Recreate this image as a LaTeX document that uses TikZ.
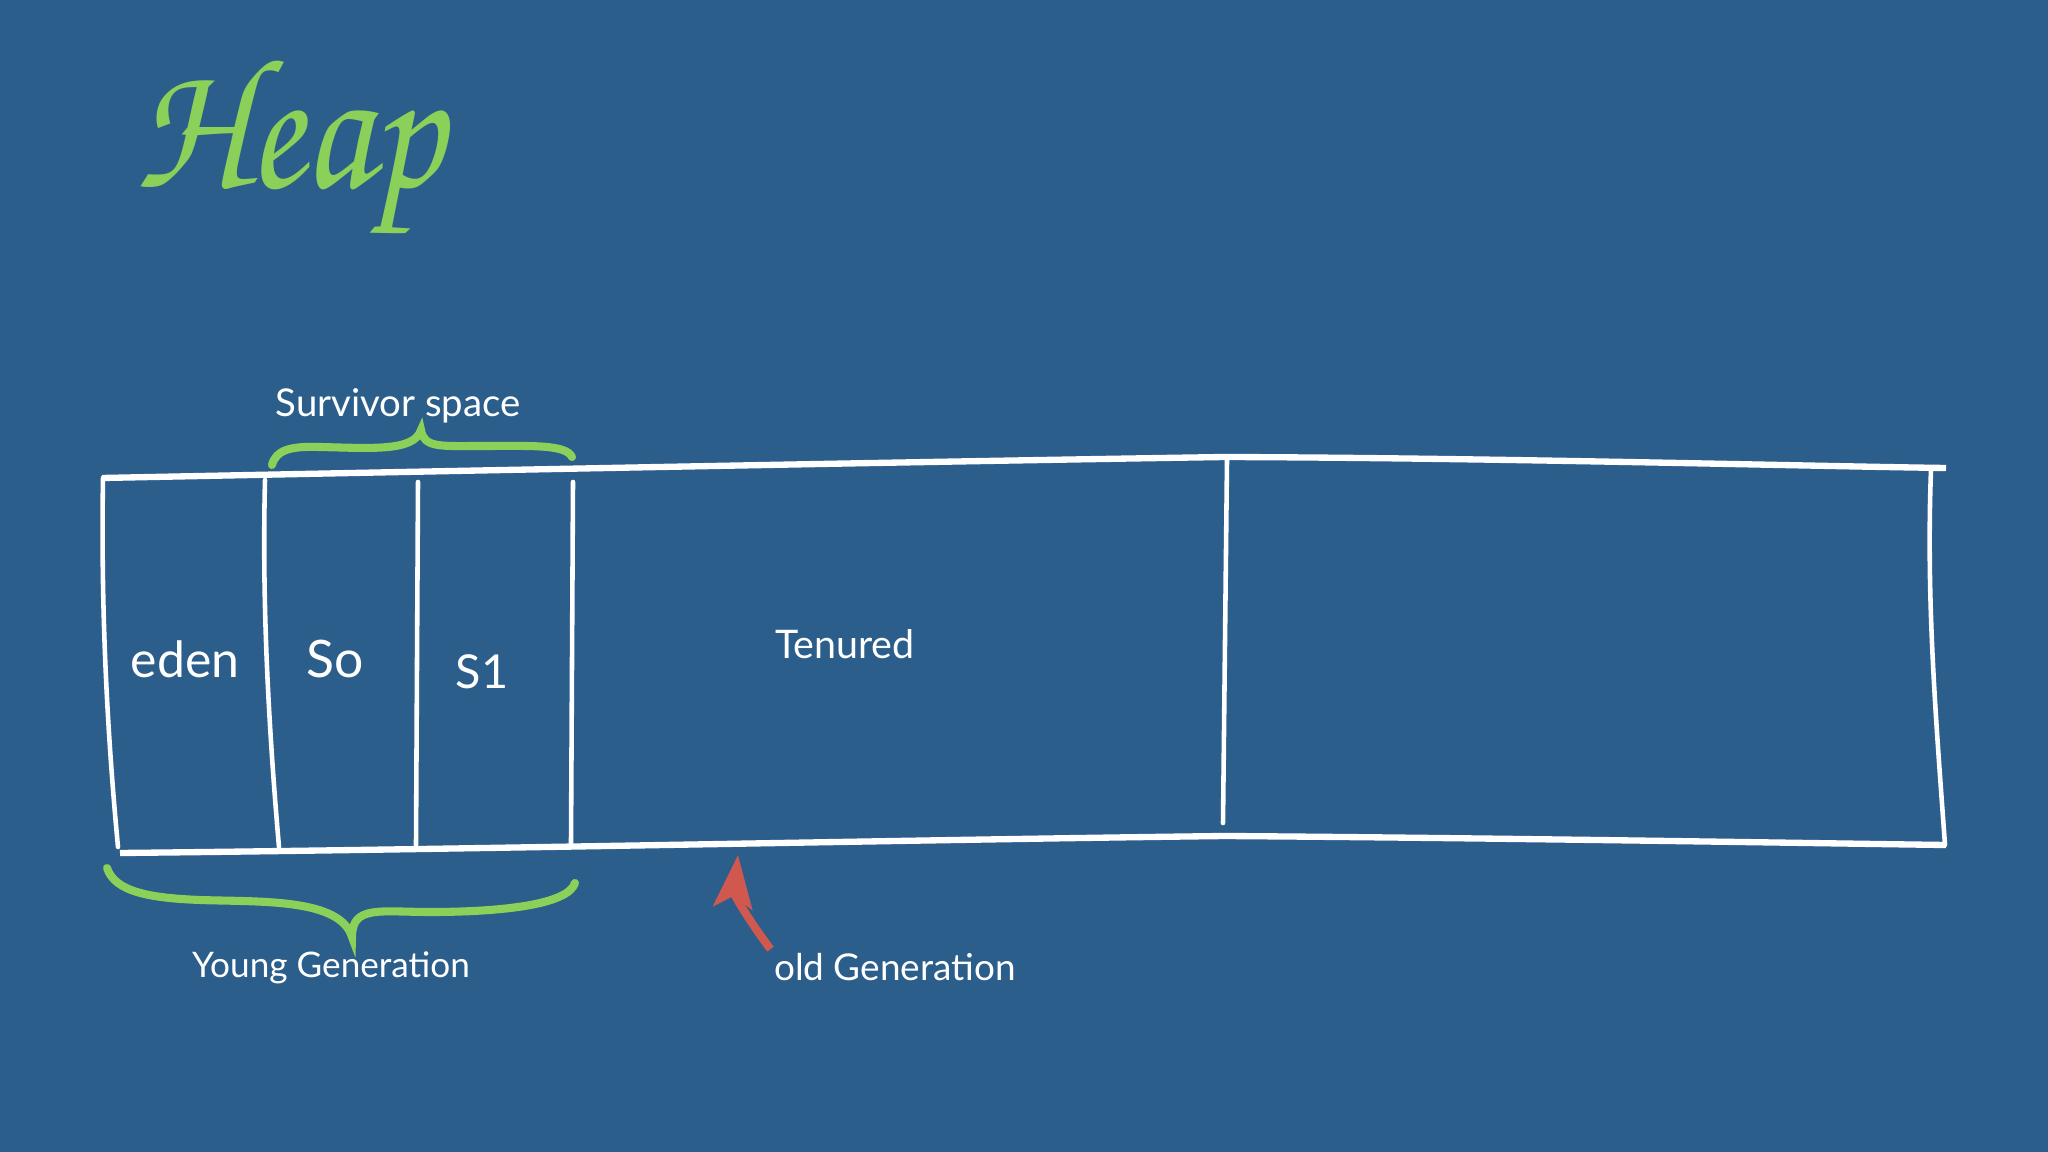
\documentclass[tikz,border=0pt]{standalone}
\usepackage[T1]{fontenc}
\usepackage{fontspec}
\newfontfamily\labelfont{Lato}
\newcommand{\heapfont}{\fontencoding{T1}\fontfamily{pzc}\fontseries{mb}\fontshape{it}\selectfont}
\usetikzlibrary{arrows.meta,positioning}
\definecolor{bgblue}{RGB}{44,94,140}
\definecolor{chalkgreen}{RGB}{139,208,88}
\definecolor{chalkred}{RGB}{208,88,79}
\tikzset{
  wall/.style={white, line width=1.3pt, line cap=round},
  rim/.style={white, line width=1.8pt},
  brace/.style={chalkgreen, line width=2.3pt, line cap=round},
  lbl/.style={white, inner sep=0pt, anchor=base, font=\labelfont\fontsize{#1}{#1}\selectfont},
  lbl/.default=10
}

\begin{document}
\begin{tikzpicture}[x=0.01cm, y=-0.01cm, >=latex]
\fill[bgblue] (0,0) rectangle (2048,1152);
\useasboundingbox (0,0) rectangle (2048,1152);

% title
\node[chalkgreen, inner sep=0pt, anchor=base west, font=\heapfont\fontsize{53}{60}\selectfont]
  (heap) at (135,188) {\scalebox{0.88}[1]{Heap}};

% the heap box
\draw[rim] (102,478) .. controls (400,472) and (900,462) .. (1225,457)
  .. controls (1500,458) and (1800,466) .. (1946,468);
\draw[rim] (120,853) .. controls (500,849) and (900,840) .. (1225,836)
  .. controls (1500,838) and (1800,843) .. (1946,845);
\draw[wall] (103,478) .. controls (101,600) and (106,720) .. (118,847);
\draw[wall] (265,480) .. controls (262,600) and (268,720) .. (279,847);
\draw[wall] (418,482) -- (416,845);
\draw[wall] (573,482) -- (571,843);
\draw[wall] (1227,460) -- (1223,823);
\draw[wall] (1931,470) .. controls (1926,600) and (1936,720) .. (1945,845);

% labels
\node[lbl=14.2] (eden) at (185,677) {eden};
\node[lbl=14.7] (szero) at (335,677) {So};
\node[lbl=13.3] (sone) at (482,688) {S1};
\node[lbl=11.2] (tenured) at (845,659) {Tenured};
\node[lbl=10.9] (survivor) at (398,417) {Survivor space};
\node[lbl=10] (young) at (331,977) {Young Generation};
\node[lbl=10.5] (oldgen) at (895,980) {old Generation};

% braces
\draw[brace] (272,465) .. controls (276,450) and (290,446) .. (320,447)
  .. controls (370,448) and (414,452) .. (421,430)
  .. controls (424,448) and (440,446) .. (480,446)
  .. controls (530,446) and (566,444) .. (572,457);
\draw[brace] (107,868) .. controls (115,892) and (150,898) .. (200,900)
  .. controls (260,902) and (340,898) .. (352,937)
  .. controls (352,905) and (380,912) .. (430,912)
  .. controls (500,912) and (568,905) .. (575,883);

% arrow to the old generation
\coordinate (oldtip) at (738,855);
\draw[chalkred, line width=2.3pt, -{Stealth[length=5.3mm,width=3.9mm,inset=1.2mm]}]
  ([shift={(-3,-3)}]oldgen.north west) .. controls (750,922) and (734,895) .. (oldtip);
\end{tikzpicture}
\end{document}
